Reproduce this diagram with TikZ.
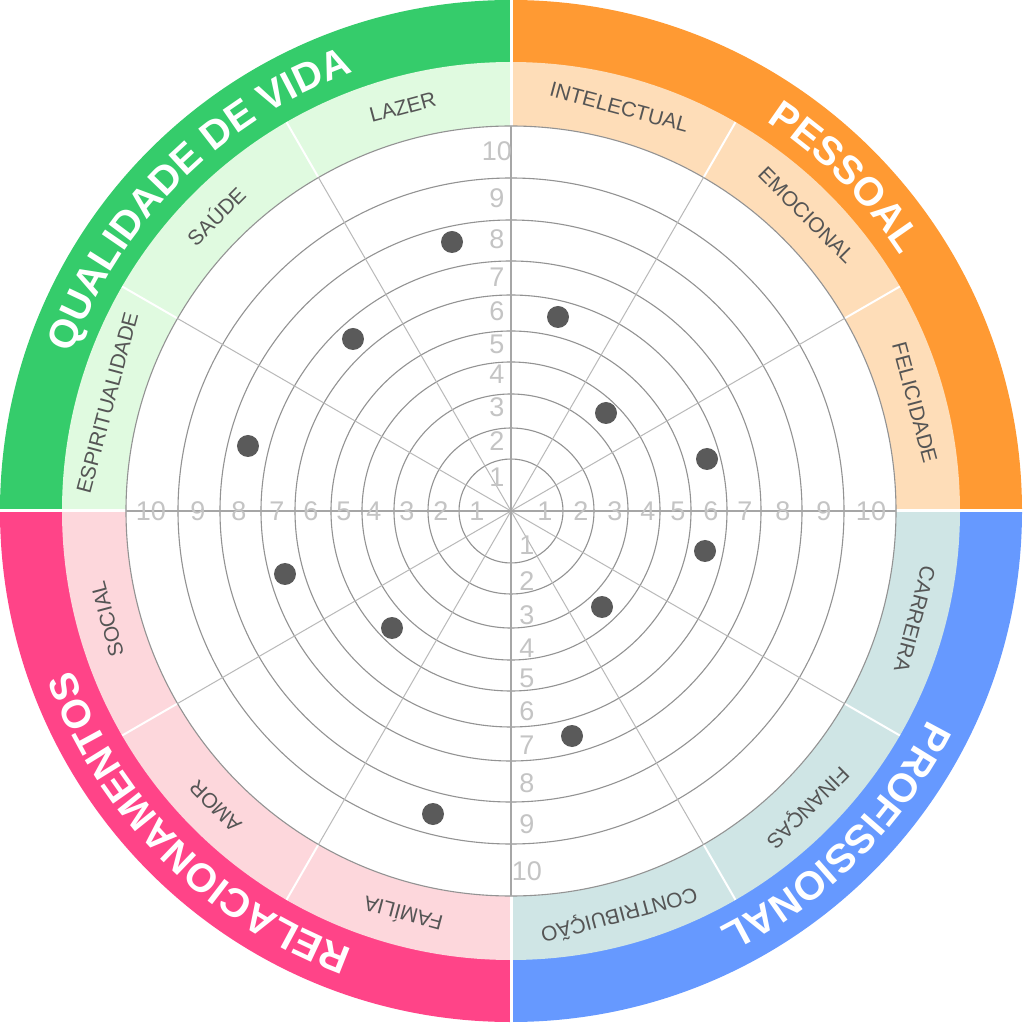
\documentclass[tikz,border=0pt]{standalone}
\usepackage{fontspec}
\setmainfont{Liberation Sans}
\usetikzlibrary{decorations.text}
\definecolor{gA}{HTML}{35CC6B}\definecolor{gB}{HTML}{E0FAE0}
\definecolor{oA}{HTML}{FF9A33}\definecolor{oB}{HTML}{FEDDB8}
\definecolor{bA}{HTML}{6699FF}\definecolor{bB}{HTML}{CFE5E5}
\definecolor{pA}{HTML}{FF4488}\definecolor{pB}{HTML}{FDD7DC}
\definecolor{numc}{HTML}{C4C4C4}\definecolor{labc}{HTML}{555555}
\definecolor{dotc}{HTML}{5A5A5A}
\newcommand{\ttlfont}{\color{white}\bfseries\fontsize{40}{40}\selectfont}
\tikzset{
 numlab/.style={text=numc,font=\fontsize{27}{27}\selectfont,inner sep=0pt},
 sublab/.style={text=labc,font=\fontsize{21}{21}\selectfont,inner sep=0pt},
 ptdot/.style={circle,fill=dotc,minimum size=22pt,inner sep=0pt},
 ringline/.style={draw=gray!85,line width=1.1pt},
 spoke/.style={draw=gray!55,line width=1pt},
 axisline/.style={draw=gray!70,line width=2.6pt},
}
\begin{document}
\begin{tikzpicture}[x=1pt,y=1pt]
\useasboundingbox (-511,-513) rectangle (511,511);
% outer ring quadrants
\foreach \a/\c/\l in {0/oA/oB,90/gA/gB,180/pA/pB,270/bA/bB}{
  \fill[\c] (0,0) -- (\a:511) arc[start angle=\a,end angle=\a+90,radius=511] -- cycle;
  \fill[\l] (0,0) -- (\a:449) arc[start angle=\a,end angle=\a+90,radius=449] -- cycle;
}
\fill[white] (0,0) circle[radius=385];
% separators
\foreach \a in {30,60,120,150,210,240,300,330}
  \draw[white,line width=2pt] (\a:385) -- (\a:449);
\foreach \a in {0,90,180,270}
  \draw[white,line width=3pt] (\a:385) -- (\a:512);
% circles
\foreach \r in {52,83,117,149,180,216,250,291,333,385}
  \draw[ringline] (0,0) circle[radius=\r];
\foreach \a in {30,60,120,150,210,240,300,330}
  \draw[spoke] (0,0) -- (\a:385);
\draw[axisline] (-385,0) -- (385,0);
\draw[axisline] (0,-385) -- (0,385);
% numbers
\foreach \n/\d in {1/34,2/70,3/104,4/137,5/167,6/200,7/234,8/272,9/313,10/360}{
  \node[numlab] (nr\n) at (\d,0) {\n};
  \node[numlab] (nl\n) at (-\d,0) {\n};
  \node[numlab] (nu\n) at (-14,\d) {\n};
  \node[numlab] (nd\n) at (16,-\d) {\n};
}
% sub labels
\foreach \t/\a [count=\i] in {INTELECTUAL/75,EMOCIONAL/45,FELICIDADE/15,CARREIRA/-15,FINANÇAS/-45,CONTRIBUIÇÃO/-75,FAMÍLIA/-105,AMOR/-135,SOCIAL/-165,ESPIRITUALIDADE/165,SAÚDE/135,LAZER/105}
  \node[sublab,rotate=\a-90] (s\i) at (\a:418) {\t};
% titles
\path[decorate,decoration={text along path,text align=center,text={|\ttlfont|QUALIDADE DE VIDA}}]
  (180:466) arc[start angle=180,end angle=90,radius=466];
\path[decorate,decoration={text along path,text align=center,text={|\ttlfont|PESSOAL}}]
  (90:466) arc[start angle=90,end angle=0,radius=466];
\path[decorate,decoration={text along path,text align=center,text={|\ttlfont|PROFISSIONAL}}]
  (0:466) arc[start angle=0,end angle=-90,radius=466];
\path[decorate,decoration={text along path,text align=center,text={|\ttlfont|RELACIONAMENTOS}}]
  (270:466) arc[start angle=270,end angle=180,radius=466];
% dots
\foreach \x/\y [count=\i] in {-59/269,-158/172,-263/65,47/194,95/98,196/52,194/-40,91/-96,61/-225,-78/-303,-119/-117,-226/-63}
  \node[ptdot] (d\i) at (\x,\y) {};
\end{tikzpicture}
\end{document}
